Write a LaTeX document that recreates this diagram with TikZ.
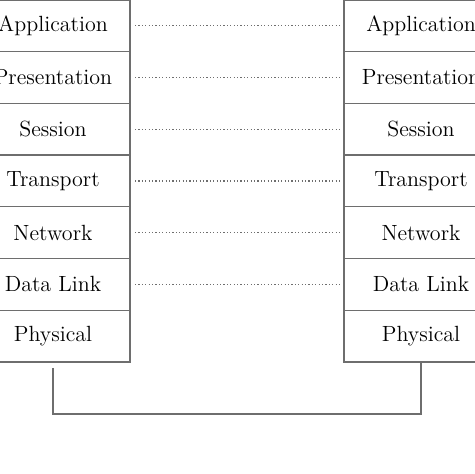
\documentclass[tikz,border=0pt]{standalone}
\usepackage{tikz}
\usetikzlibrary{positioning, calc}

\definecolor{linegray}{RGB}{110,110,110}

\begin{document}
\begin{tikzpicture}[
		x=0.5pt,
		y=0.5pt,
		font=\fontsize{11}{13}\selectfont,
		layer/.style={draw=linegray, line width=0.6pt, minimum width=77pt, minimum height=25.85pt, inner sep=0pt, outer sep=0pt},
		peerlink/.style={draw=linegray, line width=0.6pt, dash pattern=on 0.6pt off 1.1pt},
		wire/.style={draw=linegray, line width=0.7pt}
		]
		\useasboundingbox (0,0) rectangle (474,-474);
		
		% Layer stacks
		\foreach \i/\name in {
			1/Application,
			2/Presentation,
			3/Session,
			4/Transport,
			5/Network,
			6/Data Link,
			7/Physical
		}{
			\node[layer] (l\i) at (53,{-25.85-51.7*(\i-1)}) {\name};
			\node[layer] (r\i) at (421,{-25.85-51.7*(\i-1)}) {\name};
		}
		
		% Peer links
		\foreach \i in {1,...,6}{
			\draw[peerlink] ([xshift=2.5pt]l\i.east) -- ([xshift=-2pt]r\i.west);
		}
		
		% Physical medium
		\draw[wire] ([yshift=-3pt]l7.south) |- ([yshift=-26pt]r7.south) -- (r7.south);
		
	\end{tikzpicture}
\end{document}
